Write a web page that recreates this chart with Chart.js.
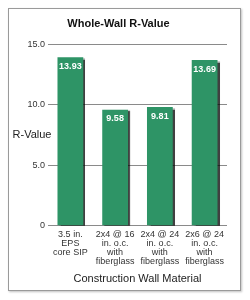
<!DOCTYPE html>
<html>
<head>
<meta charset="utf-8">
<script src="https://cdn.jsdelivr.net/npm/chart.js@4"></script>
<style>
  body { margin: 0; background: #fff; }
  #wrap { position: relative; width: 250px; height: 300px; }
  #frame { position: absolute; left: 8px; top: 8px; width: 231px; height: 281px;
           border: 1px solid #9a9a9a; box-shadow: 1px 1px 2px rgba(0,0,0,0.25); pointer-events: none; }
</style>
</head>
<body>
<div id="wrap">
  <canvas id="chart" width="250" height="300"></canvas>
  <div id="frame"></div>
</div>
<script>
const categories = [
    ['3.5 in.', 'EPS', 'core SIP'],
    ['2x4 @ 16', 'in. o.c.', 'with', 'fiberglass'],
    ['2x4 @ 24', 'in. o.c.', 'with', 'fiberglass'],
    ['2x6 @ 24', 'in. o.c.', 'with', 'fiberglass']
];
const rValues = [13.93, 9.58, 9.81, 13.69];
const yTicks = [0, 5, 10, 15];

const font = '"Liberation Sans", Arial, sans-serif';

// white value labels inside the top of each bar + horizontal y title
const extras = {
    id: 'extras',
    beforeDatasetsDraw(chart) {
        const ctx = chart.ctx;
        ctx.save();
        ctx.shadowColor = 'rgba(0,0,0,0.75)';
        ctx.shadowOffsetX = 2;
        ctx.shadowOffsetY = 1;
        ctx.shadowBlur = 1;
    },
    afterDatasetsDraw(chart) {
        const ctx = chart.ctx;
        ctx.restore();
        ctx.save();
        ctx.fillStyle = '#fff';
        ctx.font = 'bold 9px ' + font;
        ctx.textAlign = 'center';
        ctx.textBaseline = 'middle';
        chart.getDatasetMeta(0).data.forEach((bar, i) => {
            ctx.fillText(rValues[i].toFixed(2), bar.x, bar.y + 9);
        });
        ctx.fillStyle = '#222';
        ctx.font = '11px ' + font;
        ctx.fillText('R-Value', 32, 135);
        ctx.restore();
    }
};

new Chart(document.getElementById('chart'), {
    type: 'bar',
    data: {
        labels: categories,
        datasets: [{
            data: rValues,
            backgroundColor: '#2e9466',
            borderWidth: 0,
            barPercentage: 0.64,
            categoryPercentage: 0.9
        }]
    },
    options: {
        responsive: false,
        animation: false,
        layout: { padding: { left: 10, right: 23, top: 8, bottom: 14 } },
        plugins: {
            legend: { display: false },
            tooltip: { enabled: false },
            title: {
                display: true,
                text: 'Whole-Wall R-Value',
                color: '#111',
                font: { family: font, size: 11, weight: 'bold' },
                padding: { top: 9, bottom: 14 }
            }
        },
        scales: {
            x: {
                grid: { display: false, drawTicks: false },
                border: { display: false },
                ticks: {
                    color: '#333',
                    font: { family: font, size: 9, lineHeight: 1 },
                    maxRotation: 0,
                    autoSkip: false,
                    padding: 4
                },
                title: {
                    display: true,
                    text: 'Construction Wall Material',
                    color: '#222',
                    font: { family: font, size: 11 },
                    padding: { top: 3, bottom: 0 }
                }
            },
            y: {
                min: 0,
                max: 15,
                afterBuildTicks(axis) { axis.ticks = yTicks.map(v => ({ value: v })); },
                afterFit(axis) { axis.width = 38; },
                grid: { color: '#8a8a8a', lineWidth: 1, drawTicks: false },
                border: { display: false },
                ticks: {
                    color: '#333',
                    font: { family: font, size: 9 },
                    padding: 3,
                    callback: v => v === 0 ? '0' : v.toFixed(1)
                }
            }
        }
    },
    plugins: [extras]
});
</script>
</body>
</html>
